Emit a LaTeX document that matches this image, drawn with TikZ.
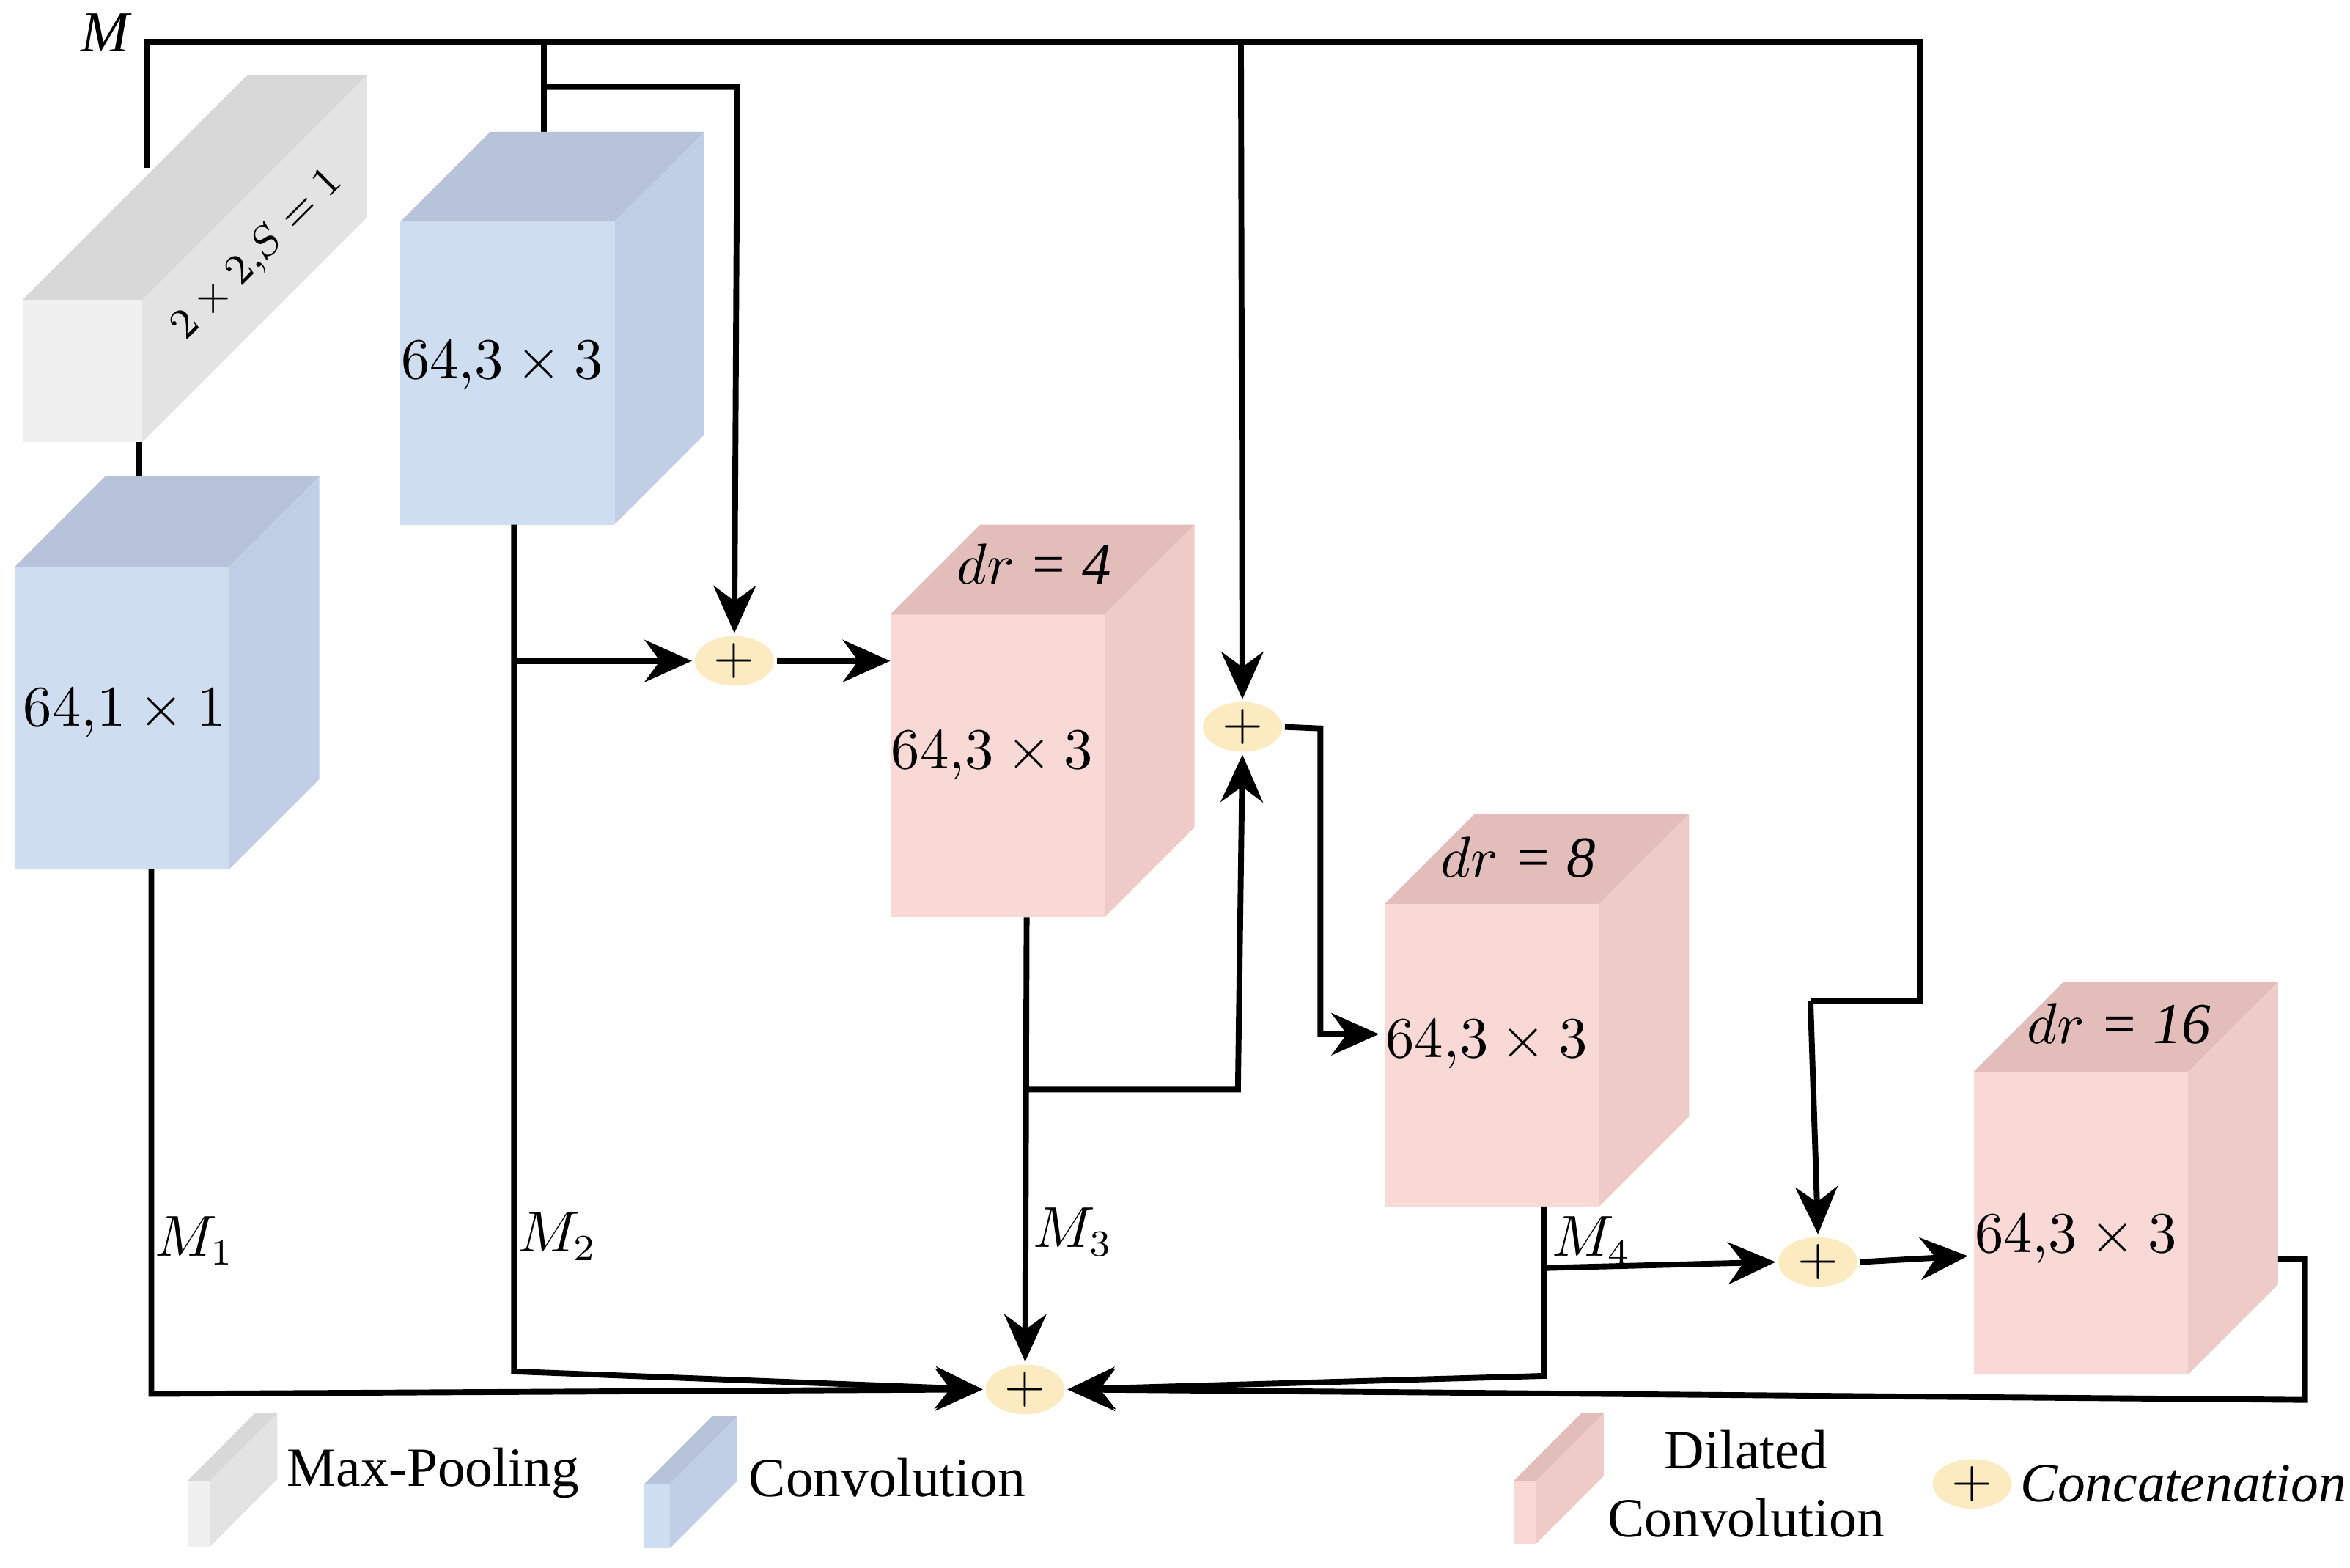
\documentclass[tikz,border=0pt]{standalone}
\usepackage{fontspec}
\setmainfont{Liberation Serif}
\usetikzlibrary{arrows.meta,shapes.geometric}
\definecolor{cf}{HTML}{CFDDF0}\definecolor{cs}{HTML}{C0CFE5}\definecolor{ct}{HTML}{B6C3D8}
\definecolor{pf}{HTML}{F9D9D5}\definecolor{ps}{HTML}{EFCBC8}\definecolor{pt}{HTML}{E2BDBA}
\definecolor{gf}{HTML}{F0F0F0}\definecolor{gs}{HTML}{E3E3E3}\definecolor{gt}{HTML}{D8D8D8}
\definecolor{plusc}{HTML}{FCEBC0}
\newcommand{\mycube}[8]{%
 \fill[#6] (#1,#2) rectangle (#3,#4);
 \fill[#7] (#3,#2) -- ({#3+#5},{#2-#5}) -- ({#3+#5},{#4-#5}) -- (#3,#4) -- cycle;
 \fill[#8] (#1,#2) -- ({#1+#5},{#2-#5}) -- ({#3+#5},{#2-#5}) -- (#3,#2) -- cycle;}
\begin{document}
\begin{tikzpicture}[x=0.01cm,y=-0.01cm,
 line width=1.1pt,
 arr/.style={-{Stealth[length=9pt,width=8pt]}},
 plusnode/.style={ellipse,fill=plusc,minimum width=15pt,minimum height=9pt,inner sep=0pt,font=\fontsize{10}{12}\selectfont},
 lbl/.style={font=\fontsize{10.5}{13}\selectfont},
 drl/.style={font=\fontsize{11}{13}\selectfont\itshape}]
\useasboundingbox (0,0) rectangle (1568,1046);
% lines behind
\draw (98,112) -- (98,28) -- (1281,28) -- (1281,668) -- (1208,668);
\draw (363,28) -- (363,88);
\mycube{15}{200}{95}{295}{150}{gf}{gs}{gt}
\node[font=\fontsize{8.5}{10}\selectfont,rotate=45] (mp) at (172,170) {$2\times2{,}S=1$};
\mycube{10}{378}{153}{580}{60}{cf}{cs}{ct}
\mycube{267}{148}{410}{350}{60}{cf}{cs}{ct}
\mycube{594}{410}{737}{612}{60}{pf}{ps}{pt}
\mycube{924}{603}{1067}{805}{60}{pf}{ps}{pt}
\mycube{1317}{715}{1460}{917}{60}{pf}{ps}{pt}
\node[lbl] (c1) at (83,476) {$64{,}1\times1$};
\node[lbl] (c2) at (335,244) {$64{,}3\times3$};
\node[lbl] (d1) at (662,504) {$64{,}3\times3$};
\node[lbl] (d2) at (992,697) {$64{,}3\times3$};
\node[lbl] (d3) at (1385,827) {$64{,}3\times3$};
\node[drl] at (690,376) {$dr$ = 4};
\node[drl] at (1013,572) {$dr$ = 8};
\node[drl] at (1414,683) {$dr$ = 16};
\node[font=\fontsize{11}{13}\selectfont] (M) at (70,22) {$\mathbf{\mathit{M}}$};
% plus nodes
\node[plusnode] (p1) at (490,441) {$+$};
\node[plusnode] (p2) at (829,485) {$+$};
\node[plusnode] (p4) at (1213,842) {$+$};
\node[plusnode] (p0) at (684,927) {$+$};
% connectors
\draw (93,295) -- (93,318);
\draw[arr] (363,58) -- (492,58) -- (p1.north);
\draw[arr] (828,28) -- (p2.north);
\draw[arr] (1208,668) -- (p4.north);
\draw[arr] (101,580) -- (101,930) -- (p0.west);
\draw[arr] (343,350) -- (343,915) -- (p0.west);
\draw[arr] (343,441) -- (p1.west);
\draw[arr] (p1.east) -- (594,441);
\draw[arr] (685,612) -- (p0.north);
\draw[arr] (685,727) -- (826,727) -- (p2.south);
\draw[arr] (p2.east) -- (881,486) -- (881,690) -- (920,690);
\draw[arr] (1030,805) -- (1030,918) -- (p0.east);
\draw[arr] (1030,846) -- (p4.west);
\draw[arr] (p4.east) -- (1313,838);
\draw[arr] (1520,840) -- (1538,840) -- (1538,934) -- (p0.east);
\node[lbl] at (130,828) {$M_1$};
\node[lbl] at (372,825) {$M_2$};
\node[lbl] at (716,822) {$M_3$};
\node[lbl] at (1062,828) {$M_4$};
% legend
\mycube{125}{988}{140}{1032}{45}{gf}{gs}{gt}
\mycube{430}{990}{447}{1033}{45}{cf}{cs}{ct}
\mycube{1010}{988}{1025}{1030}{45}{pf}{ps}{pt}
\node[lbl] (l1) at (289,983) {Max-Pooling};
\node[lbl] (l2) at (592,986) {Convolution};
\node[lbl,align=center] (l3) at (1165,990) {Dilated\\Convolution};
\node[plusnode] (lp) at (1316,990) {$+$};
\node[lbl,font=\fontsize{10.5}{13}\selectfont\itshape] (l4) at (1457,990) {Concatenation};
\end{tikzpicture}
\end{document}
